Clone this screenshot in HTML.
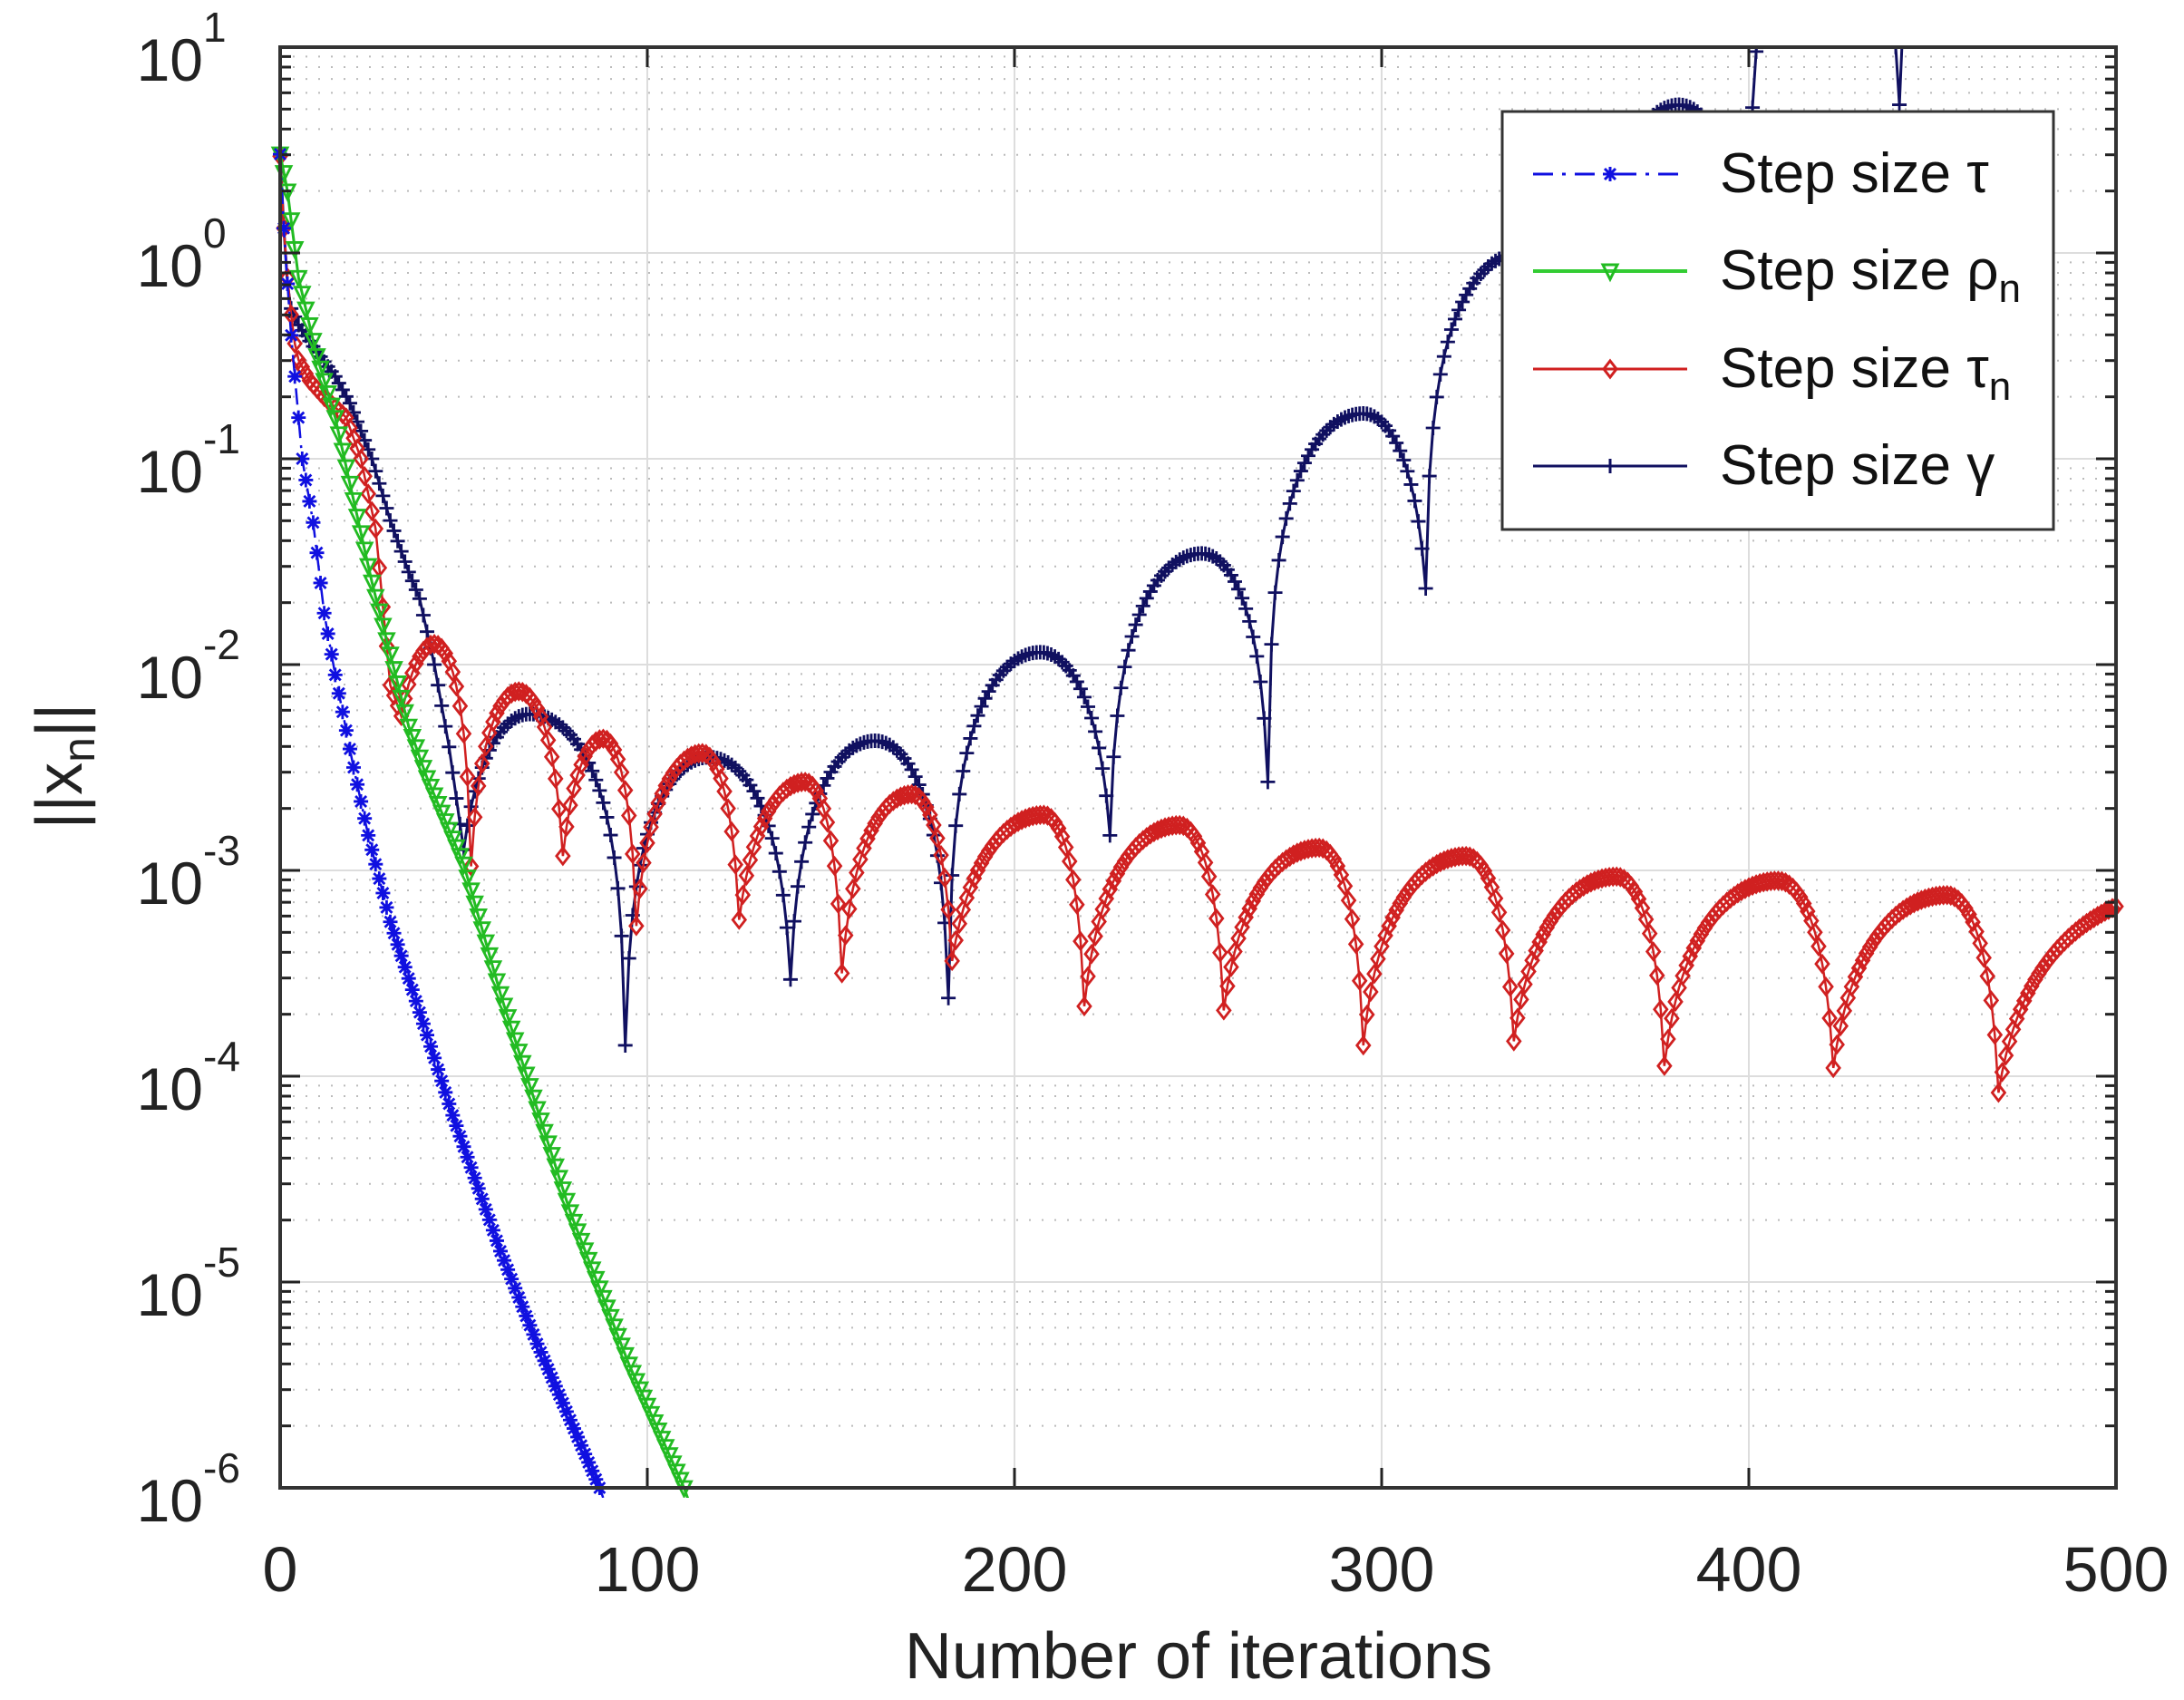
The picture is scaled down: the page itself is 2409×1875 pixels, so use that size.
<!DOCTYPE html>
<html><head><meta charset="utf-8"><style>
html,body{margin:0;padding:0;background:#fff;}
svg{display:block;font-family:"Liberation Sans",sans-serif;}
</style></head><body>
<svg id="s" width="2409" height="1875" viewBox="0 0 2409 1875" xmlns="http://www.w3.org/2000/svg">
<defs><clipPath id="cp"><rect x="0" y="52" width="2409" height="1600"/></clipPath></defs>
<g id="grid"></g>
<g id="series" clip-path="url(#cp)"></g>
<g id="axes"></g>
<g id="legend">
<rect x="1657" y="123" width="608" height="461" fill="#fff" stroke="#333" stroke-width="3"/>
<line x1="1691" y1="192" x2="1861" y2="192" stroke="#1010e0" stroke-width="3" stroke-dasharray="22,10,4,10"/>
<line x1="1691" y1="299" x2="1861" y2="299" stroke="#33cc33" stroke-width="4"/>
<line x1="1691" y1="407" x2="1861" y2="407" stroke="#d02020" stroke-width="3"/>
<line x1="1691" y1="514" x2="1861" y2="514" stroke="#101060" stroke-width="3"/>
<g id="legm"></g>
<text x="1897" y="212" font-size="62" fill="#111">Step size τ</text>
<text x="1897" y="319" font-size="62" fill="#111">Step size ρ<tspan font-size="44" dy="14">n</tspan></text>
<text x="1897" y="427" font-size="62" fill="#111">Step size τ<tspan font-size="44" dy="14">n</tspan></text>
<text x="1897" y="534" font-size="62" fill="#111">Step size γ</text>
</g>
<text x="1322" y="1851" font-size="72" text-anchor="middle" fill="#222">Number of iterations</text>
<text transform="translate(90,845) rotate(-90)" font-size="72" text-anchor="middle" fill="#222">||x<tspan font-size="50" dy="14">n</tspan><tspan dy="-14">||</tspan></text>
</svg>
<script>
const NS="http://www.w3.org/2000/svg";
const L=309,R=2334,T=52,B=1641;
const X=n=>L+n*(R-L)/500, Y=l=>T+(1-l)*(B-T)/7;
function el(p,tag,a){const e=document.createElementNS(NS,tag);for(const k in a)e.setAttribute(k,a[k]);p.appendChild(e);return e;}
const grid=document.getElementById('grid'),axes=document.getElementById('axes'),ser=document.getElementById('series');
for(let d=-6;d<=1;d++){
  if(d<1)for(let m=2;m<=9;m++){const y=Y(d+Math.log10(m));
    el(grid,'line',{x1:L,y1:y,x2:R,y2:y,stroke:'#bbb','stroke-width':2,'stroke-dasharray':'2,12'});
    el(axes,'line',{x1:L,y1:y,x2:L+12,y2:y,stroke:'#222','stroke-width':3});
    el(axes,'line',{x1:R,y1:y,x2:R-12,y2:y,stroke:'#222','stroke-width':3});}
  const y=Y(d);
  el(grid,'line',{x1:L,y1:y,x2:R,y2:y,stroke:'#ddd','stroke-width':2});
  el(axes,'line',{x1:L,y1:y,x2:L+22,y2:y,stroke:'#222','stroke-width':3});
  el(axes,'line',{x1:R,y1:y,x2:R-22,y2:y,stroke:'#222','stroke-width':3});
  const t=el(axes,'text',{x:224,y:y+37,'font-size':66,'text-anchor':'end',fill:'#222'});t.textContent='10';
  const s=el(axes,'text',{x:224,y:y-6,'font-size':46,'text-anchor':'start',fill:'#222'});s.textContent=String(d);
}
for(let k=0;k<=5;k++){const x=X(k*100);
  if(k>0&&k<5)el(grid,'line',{x1:x,y1:T,x2:x,y2:B,stroke:'#ddd','stroke-width':2});
  el(axes,'line',{x1:x,y1:B,x2:x,y2:B-22,stroke:'#222','stroke-width':3});
  el(axes,'line',{x1:x,y1:T,x2:x,y2:T+22,stroke:'#222','stroke-width':3});
  const t=el(axes,'text',{x:x,y:1755,'font-size':70,'text-anchor':'middle',fill:'#222'});t.textContent=String(k*100);}
el(axes,'rect',{x:L,y:T,width:R-L,height:B-T,fill:'none',stroke:'#333','stroke-width':4});
function interp(pts,n){for(let i=0;i<pts.length-1;i++){if(n>=pts[i][0]&&n<=pts[i+1][0]){const t=(n-pts[i][0])/(pts[i+1][0]-pts[i][0]);return pts[i][1]+t*(pts[i+1][1]-pts[i][1]);}}return pts[pts.length-1][1];}
function arches(init,dips,peaks,n){
  if(n<=dips[0][0])return interp(init,n);
  for(let i=0;i<dips.length-1;i++){const d0=dips[i],d1=dips[i+1],p=peaks[i];
    if(n>=d0[0]&&n<=d1[0]){
      let v;const P=Math.pow(10,p[1]);
      if(n<=p[0]){const u=(n-d0[0])/(p[0]-d0[0]);const D=Math.pow(10,d0[1]);v=D+(P-D)*Math.sin(Math.PI/2*u);}
      else{const u=(n-p[0])/(d1[0]-p[0]);const D=Math.pow(10,d1[1]);v=D+(P-D)*Math.cos(Math.PI/2*u);}
      return Math.log10(v);}}
  return dips[dips.length-1][1];
}
function draw(fn,nmax,color,mk,dash,lw){
  let pts=[];for(let n=0;n<=nmax;n++){const l=fn(n);pts.push([X(n),Y(l)]);}
  pts=pts.filter(p=>p[1]<B+40);
  el(ser,'polyline',{points:pts.map(p=>p[0].toFixed(1)+','+p[1].toFixed(1)).join(' '),fill:'none',stroke:color,'stroke-width':lw,'stroke-dasharray':dash||'none'});
  const g=el(ser,'g',{fill:'none',stroke:color,'stroke-width':2.8});
  pts.forEach(p=>{if(p[1]<=B+2)marker(g,mk,p[0],p[1]);});
}
function marker(g,mk,x,y){const s=8;
  if(mk==='star'){el(g,'path',{d:`M${x-s},${y}H${x+s}M${x},${y-s}V${y+s}M${x-6},${y-6}L${x+6},${y+6}M${x-6},${y+6}L${x+6},${y-6}`});}
  else if(mk==='tri'){el(g,'path',{d:`M${x-8},${y-7}L${x+8},${y-7}L${x},${y+9}Z`});}
  else if(mk==='dia'){el(g,'path',{d:`M${x},${y-9}L${x+7},${y}L${x},${y+9}L${x-7},${y}Z`});}
  else if(mk==='plus'){el(g,'path',{d:`M${x-8},${y}H${x+8}M${x},${y-8}V${y+8}`});}
}
const lg=document.getElementById('legm');
const g1=el(lg,'g',{fill:'none',stroke:'#1010e0','stroke-width':3});marker(g1,'star',1776,192);
const g2=el(lg,'g',{fill:'none',stroke:'#22bb22','stroke-width':3});marker(g2,'tri',1776,299);
const g3=el(lg,'g',{fill:'none',stroke:'#d02020','stroke-width':3});marker(g3,'dia',1776,407);
const g4=el(lg,'g',{fill:'none',stroke:'#101060','stroke-width':3});marker(g4,'plus',1776,514);
const green=[[0,0.48],[2,0.3],[5,-0.12],[8,-0.35],[10,-0.5],[15,-0.8],[20,-1.2],[25,-1.6],[31,-2.02],[35,-2.3],[40,-2.55],[50,-2.97],[60,-3.6],[79,-4.66],[95,-5.4],[110,-6.0],[112,-6.1]];
const blue=[[0,0.48],[1,0.12],[2,-0.15],[3,-0.4],[4,-0.6],[5,-0.8],[6,-1.0],[9,-1.31],[12,-1.75],[15,-2.05],[20,-2.5],[24,-2.83],[30,-3.25],[40,-3.8],[47,-4.19],[60,-4.85],[70,-5.3],[87,-6.0],[89,-6.1]];
const rInit=[[0,0.47],[1,0.12],[2,-0.12],[3,-0.3],[4,-0.44],[5,-0.52],[8,-0.62],[12,-0.7],[18,-0.8],[22,-1.0],[26,-1.34],[30,-2.1],[33,-2.25]];
const rD=[[33,-2.25],[52,-2.98],[77,-2.93],[97,-3.27],[125,-3.24],[153,-3.5],[183,-3.44],[219,-3.66],[257,-3.68],[295,-3.85],[336,-3.83],[377,-3.95],[423,-3.96],[468,-4.08],[540,-4.1]];
const rP=[[42,-1.9],[65,-2.13],[88,-2.36],[115,-2.43],[143,-2.57],[172,-2.63],[208,-2.73],[245,-2.78],[283,-2.89],[323,-2.93],[364,-3.03],[408,-3.05],[454,-3.12],[520,-3.1]];
const nInit=[[0,0.48],[1,0.12],[2,-0.15],[3,-0.27],[5,-0.35],[10,-0.48],[15,-0.6],[19,-0.73],[25,-1.0],[30,-1.3],[35,-1.55],[38,-1.68],[42,-2.0],[46,-2.4],[50,-2.9]];
const nD=[[50,-2.9],[94,-3.85],[139,-3.53],[182,-3.62],[226,-2.83],[269,-2.57],[312,-1.63],[358,-0.8],[400,-0.2],[441,0.72],[490,1.2]];
const nP=[[68,-2.24],[117,-2.45],[162,-2.37],[207,-1.94],[251,-1.46],[295,-0.78],[338,0.0],[381,0.72],[422,1.8],[470,2.2]];
draw(n=>arches(nInit,nD,nP,n),460,'#101060','plus',null,3);
draw(n=>arches(rInit,rD,rP,n),500,'#d02020','dia',null,2.5);
draw(n=>interp(green,n),112,'#22bb22','tri',null,3);
draw(n=>interp(blue,n),89,'#1010e0','star','18,8,3,8',2.5);
</script>
</body></html>
